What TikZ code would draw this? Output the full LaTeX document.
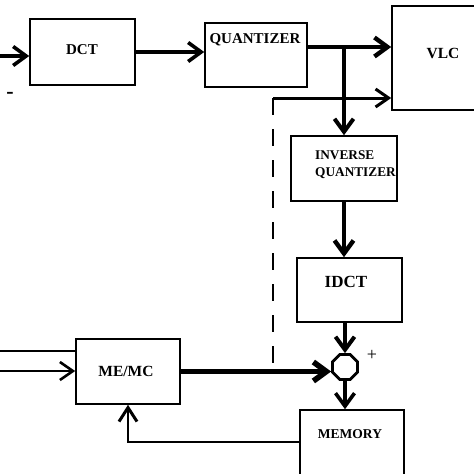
\documentclass[tikz,border=0pt]{standalone}
\usepackage{fontspec}
\setmainfont{Liberation Serif}
\usetikzlibrary{arrows.meta,shapes.geometric}

\tikzset{
  blk/.style={draw, line width=1.6pt, inner sep=0pt},
  lbl/.style={font=\bfseries\fontsize{13}{15}\selectfont, inner sep=0pt},
  flow/.style={line width=3.6pt, -{Straight Barb[length=13pt,width=19pt]}},
  flowthin/.style={line width=2.6pt, -{Straight Barb[length=13pt,width=18pt]}},
  wire/.style={line width=2pt},
}

\begin{document}
\begin{tikzpicture}[x=1pt,y=-1pt]

  \useasboundingbox (0,0) rectangle (474,474);
  \clip (0,0) rectangle (474,474);

  % blocks
  \node[blk, minimum width=105pt, minimum height=66pt] (dct) at (82.5,52) {};
  \node[blk, minimum width=102pt, minimum height=64pt] (quant) at (256,55) {};
  \node[blk, minimum width=100pt, minimum height=104pt] (vlc) at (442,58) {};
  \node[blk, minimum width=106pt, minimum height=65pt] (iq) at (344,168.5) {};
  \node[blk, minimum width=105pt, minimum height=64pt] (idct) at (349.5,290) {};
  \node[blk, minimum width=104pt, minimum height=65pt] (memc) at (128,371.5) {};
  \node[blk, minimum width=104pt, minimum height=90pt] (mem) at (352,455) {};
  \node[draw, line width=2.8pt, regular polygon, regular polygon sides=8,
        minimum size=27pt, inner sep=0pt] (add) at (345,367) {};

  % labels
  \node[lbl, font=\bfseries\fontsize{15}{16}\selectfont] (dcttxt) at (82,50) {DCT};
  \node[lbl, font=\bfseries\fontsize{15}{16}\selectfont] (quanttxt) at (255,40) {QUANTIZER};
  \node[lbl, font=\bfseries\fontsize{15.5}{16}\selectfont] (vlctxt) at (443,53) {VLC};
  \node[lbl, align=left, anchor=west, font=\bfseries\fontsize{13.3}{17}\selectfont]
    (iqtxt) at (315,165) {INVERSE\\QUANTIZER};
  \node[lbl, font=\bfseries\fontsize{17}{18}\selectfont] (idcttxt) at (346,282) {IDCT};
  \node[lbl, font=\bfseries\fontsize{15.5}{16}\selectfont] (memctxt) at (126,371) {ME/MC};
  \node[lbl, font=\bfseries\fontsize{13.5}{15}\selectfont] (memtxt) at (350,434) {MEMORY};
  \node[lbl, font=\bfseries\fontsize{22}{22}\selectfont] (minus) at (10,95) {-};
  \node[lbl, font=\fontsize{18}{18}\selectfont] (plus) at (372,355) {+};

  % free ends
  \coordinate (in) at (-5,56);
  \coordinate (ref) at (-5,351);
  \coordinate (cur) at (-5,371);
  \coordinate (dtop) at (273,98);
  \coordinate (fb) at (300,442);

  % forward path
  \draw[flow] (in) -- (in -| dct.west);
  \draw[flow] (dct.east) -- (dct.east -| quant.west);
  \draw[flow, line width=4.4pt] ([yshift=8pt]quant.east) -- ([yshift=8pt]quant.east -| vlc.west);
  \draw[flow, line width=4pt] ([yshift=8pt]quant.east -| iq.north) -- (iq.north);
  \draw[flow, line width=4.4pt] (iq.south) -- (iq.south |- idct.north);
  \draw[flow, line width=4pt] (add |- idct.south) -- (add.north);
  \draw[flow] (add.south) -- (add.south |- mem.north);

  % motion path
  \draw[wire] (ref) -- (ref -| memc.west);
  \draw[flowthin] (cur) -- (cur -| memc.west);
  \draw[flow, line width=5.6pt] (memc.east) -- (memc.east -| add.west);
  \draw[wire, -{Straight Barb[length=14pt,width=18pt,line width=3pt]}] (mem.west |- fb) -| (memc.south);

  % side information
  \draw[wire, dash pattern=on 17pt off 14pt] (dtop) -- (dtop |- memc.east);
  \draw[flowthin, line width=3pt] (dtop) -- (dtop -| vlc.west);

\end{tikzpicture}
\end{document}
